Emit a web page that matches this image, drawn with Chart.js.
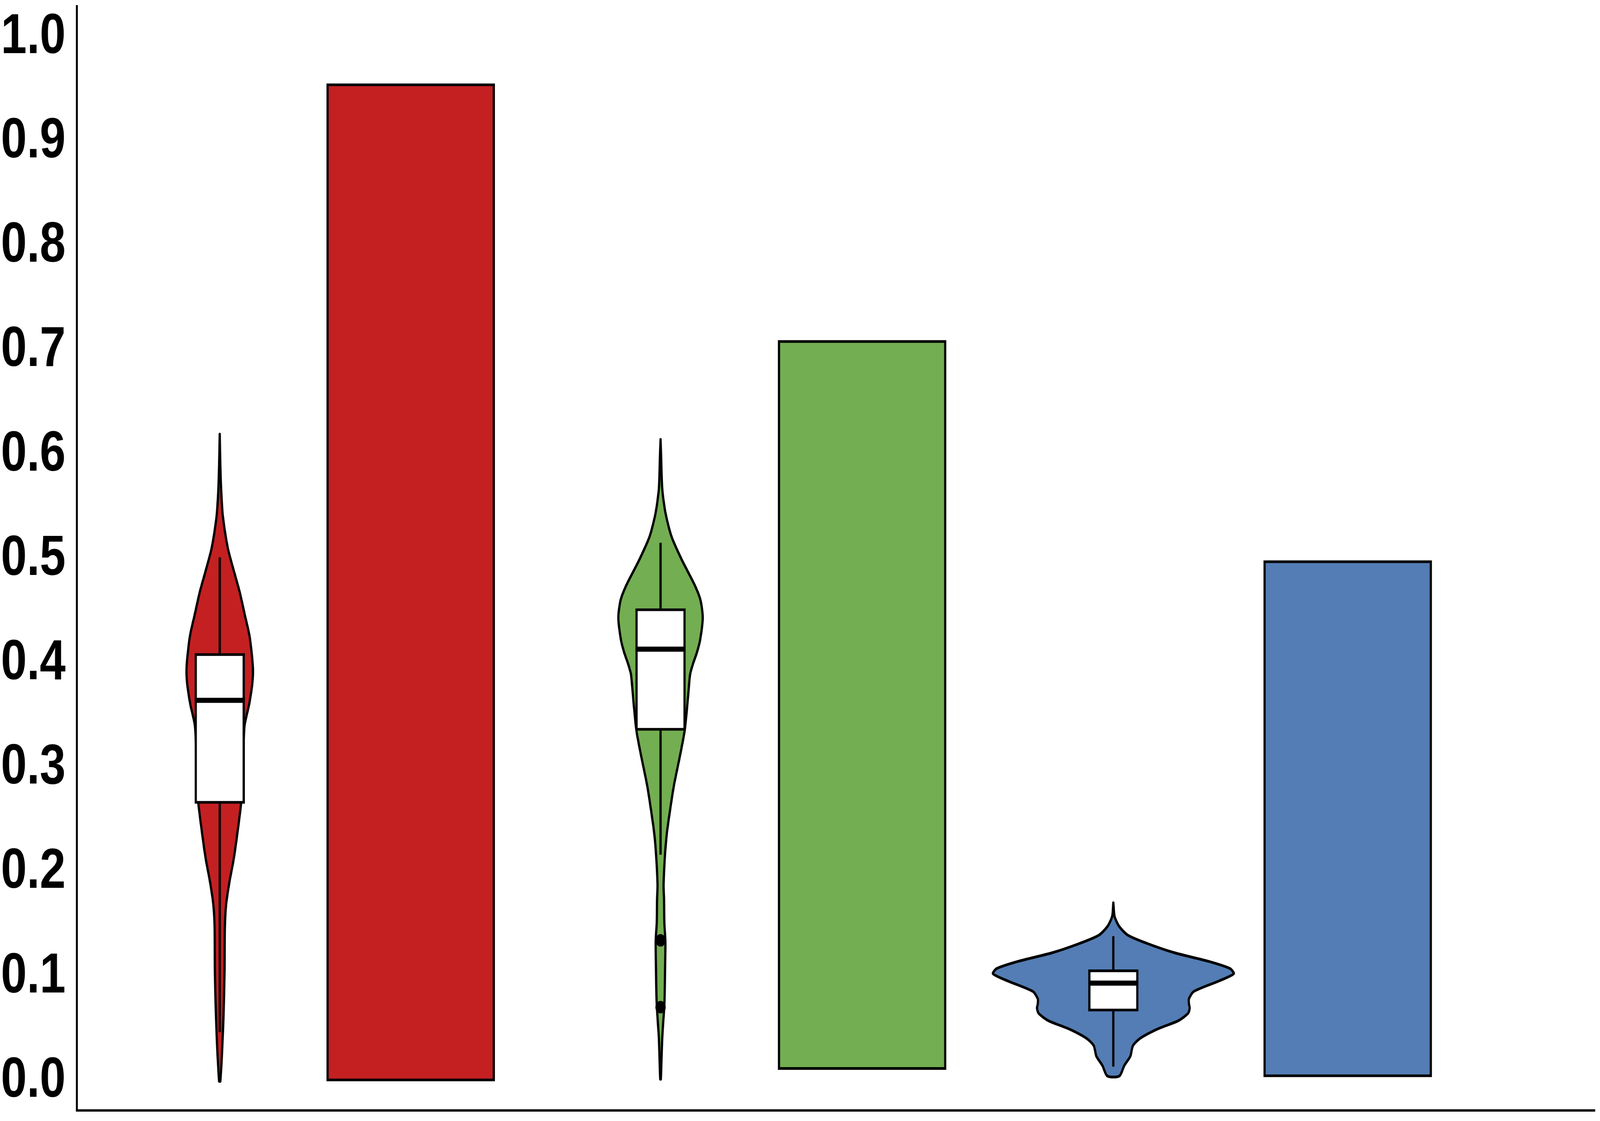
<!DOCTYPE html>
<html>
<head>
<meta charset="utf-8">
<script src="https://cdn.jsdelivr.net/npm/chart.js@4/dist/chart.umd.min.js"></script>
<style>
  html, body { margin: 0; padding: 0; background: #fff; overflow: hidden; }
  #wrap { width: 4953px; height: 2870px; transform-origin: 0 0; }
  canvas { display: block; }
</style>
</head>
<body>
<div id="wrap"><canvas id="violin-bars" width="4953" height="2870"></canvas></div>
<script>
// x positions are in axis units (0..100 across the plot), y in data units
const violinX = [9.41, 38.45, 68.28];
const barX = [21.99, 51.73, 83.72];
const barLow = [0.0, 0.011, 0.004];
const barHigh = [0.956, 0.710, 0.499];

const q1 = [0.266, 0.336, 0.067];
const median = [0.365, 0.414, 0.094];
const q3 = [0.410, 0.453, 0.107];
const whiskerLow = [0.047, 0.217, 0.014];
const whiskerHigh = [0.502, 0.516, 0.139];
const outliers = [[], [0.135, 0.071], []];

// violin outlines: value and half width of the density
const redY = [0.000, 0.033, 0.063, 0.105, 0.148, 0.169, 0.191, 0.212, 0.233, 0.268, 0.300, 0.340, 0.362, 0.383, 0.398, 0.426, 0.447, 0.469, 0.490, 0.511, 0.541, 0.562, 0.590, 0.620];
const redW = [0.04, 0.17, 0.25, 0.32, 0.34, 0.42, 0.64, 0.91, 1.12, 1.42, 1.53, 1.63, 1.95, 2.16, 2.18, 1.97, 1.65, 1.31, 0.91, 0.53, 0.21, 0.11, 0.04, 0];

const greenY = [0.002, 0.041, 0.068, 0.081, 0.108, 0.134, 0.152, 0.174, 0.188, 0.216, 0.238, 0.261, 0.284, 0.314, 0.336, 0.360, 0.375, 0.390, 0.400, 0.411, 0.423, 0.444, 0.461, 0.476, 0.499, 0.522, 0.545, 0.568, 0.598, 0.615];
const greenW = [0.02, 0.11, 0.23, 0.27, 0.30, 0.32, 0.25, 0.23, 0.20, 0.29, 0.42, 0.64, 0.89, 1.31, 1.59, 1.76, 1.85, 1.95, 2.14, 2.40, 2.61, 2.78, 2.63, 2.23, 1.42, 0.72, 0.32, 0.11, 0.04, 0];

const blueY = [0.005, 0.015, 0.024, 0.034, 0.041, 0.050, 0.058, 0.065, 0.070, 0.074, 0.079, 0.086, 0.096, 0.103, 0.108, 0.115, 0.123, 0.132, 0.140, 0.1485, 0.158, 0.171];
const blueW = [0.40, 0.72, 1.12, 1.29, 1.76, 2.91, 4.28, 4.92, 5.03, 4.98, 4.98, 5.30, 6.94, 7.93, 7.68, 6.24, 4.05, 2.23, 0.95, 0.38, 0.08, 0];

const yTicks = [0.0, 0.1, 0.2, 0.3, 0.4, 0.5, 0.6, 0.7, 0.8, 0.9, 1.0];

const colors = ['#c42022', '#74ae52', '#537db4'];
const boxHalf = 1.6;

// the browser window may be narrower than the 4953x2870 page, so fit the page into it
document.getElementById('wrap').style.transform =
    'scale(' + (window.innerWidth / 4953) + ',' + (window.innerHeight / 2870) + ')';

function outline(cx, ys, ws) {
    let pts = [];
    // right side top to bottom, then left side bottom to top
    for (let i = ys.length - 1; i >= 0; i--) pts.push({ x: cx + ws[i], y: ys[i] });
    for (let i = 0; i < ys.length; i++) pts.push({ x: cx - ws[i], y: ys[i] });
    return pts;
}

const violinShapes = [
    outline(violinX[0], redY, redW),
    outline(violinX[1], greenY, greenW),
    outline(violinX[2], blueY, blueW),
];

let whiskerPts = [];
let medianPts = [];
let outlierPts = [];
violinX.forEach((cx, i) => {
    whiskerPts.push({ x: cx, y: whiskerHigh[i] }, { x: cx, y: q3[i] }, { x: cx, y: null });
    whiskerPts.push({ x: cx, y: q1[i] }, { x: cx, y: whiskerLow[i] }, { x: cx, y: null });
    medianPts.push({ x: cx - boxHalf, y: median[i] }, { x: cx + boxHalf, y: median[i] }, { x: cx, y: null });
    outliers[i].forEach((v) => outlierPts.push({ x: cx, y: v }));
});

let datasets = violinShapes.map((pts, i) => ({
    type: 'line',
    data: pts,
    backgroundColor: colors[i],
    borderColor: '#000',
    borderWidth: 7,
    borderJoinStyle: 'round',
    borderCapStyle: 'round',
    fill: 'shape',
    tension: 0.25,
    pointRadius: 0,
    order: 10
}));

datasets.push({
    type: 'bar',
    data: barX.map((x, i) => ({ x: x, y: [barLow[i], barHigh[i]] })),
    backgroundColor: colors,
    borderColor: '#000',
    borderWidth: 7,
    borderSkipped: false,
    barThickness: 521,
    grouped: false,
    order: 10
});

datasets.push({
    type: 'line',
    data: whiskerPts,
    borderColor: '#000',
    borderWidth: 7,
    borderCapStyle: 'butt',
    fill: false,
    pointRadius: 0,
    spanGaps: false,
    order: 8
});

datasets.push({
    type: 'bar',
    data: violinX.map((x, i) => ({ x: x, y: [q1[i], q3[i]] })),
    backgroundColor: '#fff',
    borderColor: '#000',
    borderWidth: 7,
    borderSkipped: false,
    barThickness: 155,
    grouped: false,
    order: 7
});

datasets.push({
    type: 'line',
    data: medianPts,
    borderColor: '#000',
    borderWidth: 13,
    borderCapStyle: 'butt',
    fill: false,
    pointRadius: 0,
    spanGaps: false,
    order: 6
});

datasets.push({
    type: 'scatter',
    data: outlierPts,
    backgroundColor: '#000',
    borderWidth: 0,
    pointRadius: 16,
    order: 5
});

let ctx = document.getElementById('violin-bars').getContext('2d');
window.violinChart = new Chart(ctx, {
    type: 'bar',
    data: { datasets: datasets },
    options: {
        responsive: false,
        devicePixelRatio: 1,
        animation: false,
        events: [],
        layout: { padding: { top: 0, right: 0, bottom: 27, left: 0 } },
        scales: {
            x: {
                type: 'linear',
                min: 0,
                max: 100,
                offset: false,
                grid: { display: false, drawTicks: false },
                border: { display: true, color: '#000', width: 6 },
                ticks: { display: false },
                afterFit: (scale) => { scale.height = 0; }
            },
            y: {
                type: 'linear',
                min: -0.028,
                max: 1.030,
                offset: false,
                grid: { display: false, drawTicks: false },
                border: { display: true, color: '#000', width: 6 },
                afterBuildTicks: (scale) => { scale.ticks = yTicks.map((v) => ({ value: v })); },
                afterFit: (scale) => {
                    scale.width = 238;
                    scale.paddingTop = 0;
                    scale.paddingBottom = 0;
                },
                ticks: {
                    color: '#000',
                    padding: 35,
                    autoSkip: false,
                    font: { family: 'Liberation Sans', weight: 'bold', size: 144 },
                    callback: (v) => Number(v).toFixed(1)
                }
            }
        },
        plugins: {
            legend: { display: false },
            tooltip: { enabled: false }
        }
    }
});
</script>
</body>
</html>
